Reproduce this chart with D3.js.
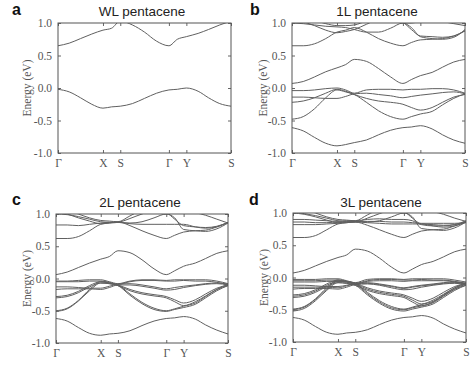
<!DOCTYPE html>
<html><head><meta charset="utf-8">
<script src="https://cdn.jsdelivr.net/npm/d3@7"></script>
<style>body{margin:0;background:#fff}svg{display:block}</style>
</head><body><svg id="chart" width="474" height="365"></svg>
<script>
// k-path sample positions (fraction of path length)
const kGrid=[0,0.065,0.13,0.195,0.26,0.31,0.36,0.43,0.5,0.57,0.641,0.69,0.742,0.81,0.87,0.935,1];
const kTickPos=[0,0.26,0.36,0.641,0.742,1];
const kTickLabels=["Γ","X","S","Γ","Y","S"];
const yTickVals=[1.0,0.5,0.0,-0.5,-1.0];
const yTickLabels=["1.0","0.5","0.0","-0.5","-1.0"];
const panelLetters=["a","b","c","d"];
const panelTitles=["WL pentacene","1L pentacene","2L pentacene","3L pentacene"];
const yAxisTitle="Energy (eV)";

// band energies (eV) at kGrid
const bandsWL=[
 [0.65,0.69,0.76,0.83,0.89,0.92,1.03,0.97,0.86,0.72,0.65,0.75,0.79,0.84,0.90,0.97,1.03],
 [-0.02,-0.06,-0.15,-0.25,-0.31,-0.29,-0.28,-0.24,-0.16,-0.08,-0.03,-0.02,0.0,-0.05,-0.15,-0.24,-0.28]
];
const bands1L=[
 [-0.61,-0.66,-0.76,-0.85,-0.89,-0.87,-0.84,-0.80,-0.72,-0.65,-0.61,-0.60,-0.58,-0.63,-0.72,-0.80,-0.85],
 [-0.04,-0.04,-0.03,-0.01,0.00,-0.03,-0.08,-0.03,-0.02,-0.02,-0.03,-0.02,-0.02,-0.01,-0.01,-0.03,-0.08],
 [-0.14,-0.14,-0.15,-0.16,-0.16,-0.13,-0.09,-0.08,-0.10,-0.12,-0.15,-0.13,-0.11,-0.09,-0.07,-0.06,-0.09],
 [-0.22,-0.20,-0.15,-0.08,-0.02,-0.05,-0.10,-0.16,-0.20,-0.22,-0.25,-0.30,-0.34,-0.30,-0.22,-0.14,-0.10],
 [-0.48,-0.44,-0.32,-0.15,-0.03,-0.06,-0.10,-0.22,-0.35,-0.44,-0.48,-0.44,-0.40,-0.36,-0.26,-0.16,-0.09],
 [0.07,0.10,0.17,0.25,0.31,0.36,0.44,0.41,0.30,0.17,0.07,0.13,0.19,0.24,0.32,0.40,0.44],
 [0.65,0.65,0.68,0.76,0.86,0.89,0.93,0.86,0.76,0.69,0.65,0.70,0.74,0.75,0.76,0.80,0.88],
 [1.08,1.02,0.96,0.89,0.85,0.87,0.90,0.98,1.05,1.06,1.01,0.90,0.80,0.79,0.78,0.80,0.88],
 [1.0,0.99,0.97,0.95,0.94,0.93,0.90,0.86,0.86,0.92,1.0,0.93,0.79,0.76,0.75,0.78,0.90],
 [1.12,1.08,1.04,0.99,0.96,0.96,0.97,1.03,1.08,1.05,1.0,1.0,1.02,1.03,1.02,0.99,0.96]
];
const bands2L=[
 [-0.62,-0.66,-0.76,-0.85,-0.88,-0.86,-0.85,-0.81,-0.73,-0.66,-0.62,-0.61,-0.59,-0.63,-0.72,-0.80,-0.86],
 [-0.04,-0.04,-0.03,-0.02,-0.02,-0.05,-0.08,-0.04,-0.02,-0.02,-0.03,-0.02,-0.02,-0.02,-0.02,-0.04,-0.08],
 [-0.05,-0.05,-0.05,-0.04,-0.04,-0.06,-0.09,-0.05,-0.03,-0.03,-0.04,-0.04,-0.03,-0.04,-0.04,-0.06,-0.09],
 [-0.13,-0.13,-0.14,-0.15,-0.15,-0.12,-0.09,-0.08,-0.10,-0.13,-0.16,-0.14,-0.12,-0.10,-0.08,-0.07,-0.09],
 [-0.17,-0.16,-0.16,-0.16,-0.17,-0.14,-0.10,-0.10,-0.12,-0.15,-0.18,-0.17,-0.14,-0.11,-0.09,-0.08,-0.10],
 [-0.28,-0.26,-0.20,-0.11,-0.05,-0.07,-0.10,-0.17,-0.22,-0.25,-0.28,-0.33,-0.38,-0.33,-0.24,-0.15,-0.10],
 [-0.30,-0.28,-0.22,-0.13,-0.07,-0.08,-0.11,-0.19,-0.24,-0.27,-0.30,-0.36,-0.42,-0.36,-0.27,-0.17,-0.11],
 [-0.50,-0.46,-0.34,-0.17,-0.05,-0.07,-0.10,-0.24,-0.37,-0.46,-0.50,-0.47,-0.43,-0.38,-0.28,-0.17,-0.09],
 [-0.51,-0.47,-0.35,-0.19,-0.07,-0.08,-0.11,-0.26,-0.39,-0.48,-0.51,-0.48,-0.45,-0.40,-0.30,-0.19,-0.11],
 [0.06,0.10,0.17,0.24,0.30,0.34,0.43,0.40,0.29,0.15,0.06,0.12,0.19,0.24,0.31,0.39,0.43],
 [0.62,0.62,0.65,0.74,0.84,0.86,0.88,0.82,0.74,0.67,0.62,0.67,0.72,0.74,0.75,0.80,0.87],
 [0.83,0.83,0.82,0.84,0.86,0.87,0.87,0.85,0.84,0.84,0.84,0.84,0.84,0.80,0.78,0.80,0.87],
 [1.05,1.0,0.94,0.89,0.85,0.86,0.87,0.93,1.0,1.05,1.02,0.92,0.82,0.80,0.79,0.81,0.87],
 [1.0,0.99,0.96,0.92,0.88,0.87,0.87,0.86,0.88,0.94,1.0,0.94,0.76,0.74,0.73,0.77,0.86],
 [1.1,1.06,1.0,0.94,0.90,0.89,0.88,0.97,1.05,1.04,1.0,1.02,1.04,1.02,0.98,0.92,0.86]
];
const bands3L=[
 [-0.62,-0.66,-0.76,-0.85,-0.88,-0.86,-0.85,-0.81,-0.73,-0.66,-0.62,-0.61,-0.59,-0.63,-0.72,-0.80,-0.86],
 [-0.03,-0.03,-0.03,-0.02,-0.02,-0.05,-0.08,-0.03,-0.02,-0.02,-0.03,-0.02,-0.02,-0.02,-0.02,-0.04,-0.07],
 [-0.05,-0.05,-0.05,-0.04,-0.04,-0.06,-0.09,-0.05,-0.03,-0.03,-0.04,-0.04,-0.03,-0.04,-0.04,-0.06,-0.09],
 [-0.07,-0.07,-0.07,-0.06,-0.06,-0.07,-0.10,-0.06,-0.05,-0.05,-0.06,-0.05,-0.05,-0.05,-0.05,-0.07,-0.10],
 [-0.12,-0.12,-0.13,-0.14,-0.14,-0.12,-0.09,-0.08,-0.10,-0.13,-0.16,-0.14,-0.12,-0.10,-0.08,-0.07,-0.09],
 [-0.15,-0.15,-0.15,-0.15,-0.16,-0.13,-0.10,-0.09,-0.11,-0.14,-0.17,-0.15,-0.13,-0.11,-0.09,-0.08,-0.10],
 [-0.18,-0.17,-0.17,-0.17,-0.18,-0.15,-0.11,-0.10,-0.12,-0.16,-0.19,-0.18,-0.15,-0.12,-0.10,-0.09,-0.11],
 [-0.27,-0.25,-0.19,-0.10,-0.04,-0.06,-0.09,-0.16,-0.21,-0.24,-0.27,-0.32,-0.37,-0.32,-0.23,-0.14,-0.09],
 [-0.29,-0.27,-0.21,-0.12,-0.06,-0.07,-0.10,-0.18,-0.23,-0.26,-0.29,-0.35,-0.41,-0.35,-0.26,-0.16,-0.10],
 [-0.31,-0.29,-0.23,-0.14,-0.08,-0.09,-0.12,-0.20,-0.25,-0.28,-0.31,-0.38,-0.44,-0.38,-0.28,-0.18,-0.12],
 [-0.49,-0.45,-0.33,-0.16,-0.04,-0.06,-0.09,-0.23,-0.36,-0.45,-0.49,-0.46,-0.42,-0.37,-0.27,-0.16,-0.08],
 [-0.50,-0.46,-0.34,-0.18,-0.06,-0.07,-0.10,-0.25,-0.38,-0.47,-0.50,-0.47,-0.44,-0.39,-0.29,-0.18,-0.10],
 [-0.52,-0.48,-0.36,-0.20,-0.08,-0.09,-0.12,-0.27,-0.40,-0.49,-0.52,-0.49,-0.46,-0.41,-0.31,-0.20,-0.12],
 [0.07,0.11,0.18,0.25,0.31,0.35,0.44,0.41,0.30,0.16,0.07,0.13,0.20,0.25,0.32,0.40,0.44],
 [0.62,0.62,0.65,0.74,0.83,0.85,0.86,0.81,0.74,0.67,0.62,0.67,0.72,0.74,0.75,0.80,0.86],
 [0.82,0.82,0.82,0.83,0.84,0.85,0.86,0.85,0.84,0.83,0.83,0.83,0.83,0.80,0.78,0.80,0.86],
 [0.86,0.86,0.85,0.85,0.86,0.86,0.87,0.87,0.87,0.86,0.86,0.85,0.84,0.84,0.84,0.84,0.85],
 [0.90,0.90,0.89,0.88,0.87,0.88,0.88,0.90,0.91,0.90,0.90,0.88,0.82,0.80,0.80,0.82,0.88],
 [1.0,0.98,0.94,0.89,0.85,0.86,0.86,0.92,0.99,1.04,1.02,0.92,0.83,0.82,0.81,0.82,0.87],
 [1.02,0.99,0.96,0.92,0.88,0.87,0.87,0.86,0.88,0.94,1.0,0.94,0.76,0.74,0.73,0.77,0.86],
 [1.1,1.06,1.0,0.94,0.90,0.89,0.88,0.97,1.05,1.04,1.0,1.02,1.04,1.02,0.98,0.92,0.87]
];
const allBands=[bandsWL,bands1L,bands2L,bands3L];

// layout
const layout=[
 {x0:58,x1:231,y0:23,y1:153,letterX:12,letterY:15,titleX:142,titleY:16,ylabX:27},
 {x0:292,x1:465,y0:23,y1:153,letterX:250,letterY:15,titleX:377,titleY:16,ylabX:263},
 {x0:56,x1:228,y0:214,y1:343,letterX:12,letterY:205,titleX:140,titleY:207,ylabX:27},
 {x0:293,x1:466,y0:213,y1:342,letterX:249,letterY:205,titleX:381,titleY:207,ylabX:264}
];

const svg=d3.select("#chart");
const serif="'Liberation Serif','Times New Roman',serif";
const sans="'Liberation Sans',Arial,sans-serif";

layout.forEach((L,i)=>{
 const x=d3.scaleLinear().domain([0,1]).range([L.x0,L.x1]);
 const y=d3.scaleLinear().domain([-1,1]).range([L.y1,L.y0]);
 const g=svg.append("g");
 const cid="clip"+i;
 svg.append("clipPath").attr("id",cid).append("rect")
   .attr("x",L.x0).attr("y",L.y0).attr("width",L.x1-L.x0).attr("height",L.y1-L.y0);
 const line=d3.line().x((d,j)=>x(kGrid[j])).y(d=>y(d)).curve(d3.curveMonotoneX);
 g.append("g").attr("clip-path",`url(#${cid})`)
  .selectAll("path").data(allBands[i]).join("path")
  .attr("d",line).attr("fill","none").attr("stroke","#606060").attr("stroke-width",1);

 const ax=d3.axisBottom(x).tickValues(kTickPos).tickFormat((d,j)=>kTickLabels[j]).tickSizeInner(-3).tickSizeOuter(0).tickPadding(6);
 const axT=d3.axisTop(x).tickValues(kTickPos).tickFormat("").tickSizeInner(-3).tickSizeOuter(0);
 const ay=d3.axisLeft(y).tickValues(yTickVals).tickFormat((d,j)=>yTickLabels[j]).tickSizeInner(-3).tickSizeOuter(0).tickPadding(6);
 const ayR=d3.axisRight(y).tickValues(yTickVals).tickFormat("").tickSizeInner(-3).tickSizeOuter(0);
 g.append("g").attr("transform",`translate(0,${L.y1})`).call(ax);
 g.append("g").attr("transform",`translate(0,${L.y0})`).call(axT);
 g.append("g").attr("transform",`translate(${L.x0},0)`).call(ay);
 g.append("g").attr("transform",`translate(${L.x1},0)`).call(ayR);
 g.selectAll(".domain").remove();
 g.selectAll(".tick line").attr("stroke","#666");
 g.selectAll(".tick text").attr("fill","#555").style("font-family",serif).style("font-size","11.5px");
 g.append("rect").attr("x",L.x0).attr("y",L.y0).attr("width",L.x1-L.x0).attr("height",L.y1-L.y0)
  .attr("fill","none").attr("stroke","#555").attr("stroke-width",1);

 g.append("text").attr("transform",`translate(${L.ylabX},${(L.y0+L.y1)/2}) rotate(-90)`)
  .attr("text-anchor","middle").attr("dy","0.35em").attr("fill","#555")
  .style("font-family",serif).style("font-size","11.5px").text(yAxisTitle);
 g.append("text").attr("x",L.titleX).attr("y",L.titleY).attr("text-anchor","middle")
  .attr("fill","#222").style("font-family",sans).style("font-size","13.5px").text(panelTitles[i]);
 g.append("text").attr("x",L.letterX).attr("y",L.letterY)
  .attr("fill","#111").style("font-family",sans).style("font-size","16px").style("font-weight","bold").text(panelLetters[i]);
});
</script></body></html>
